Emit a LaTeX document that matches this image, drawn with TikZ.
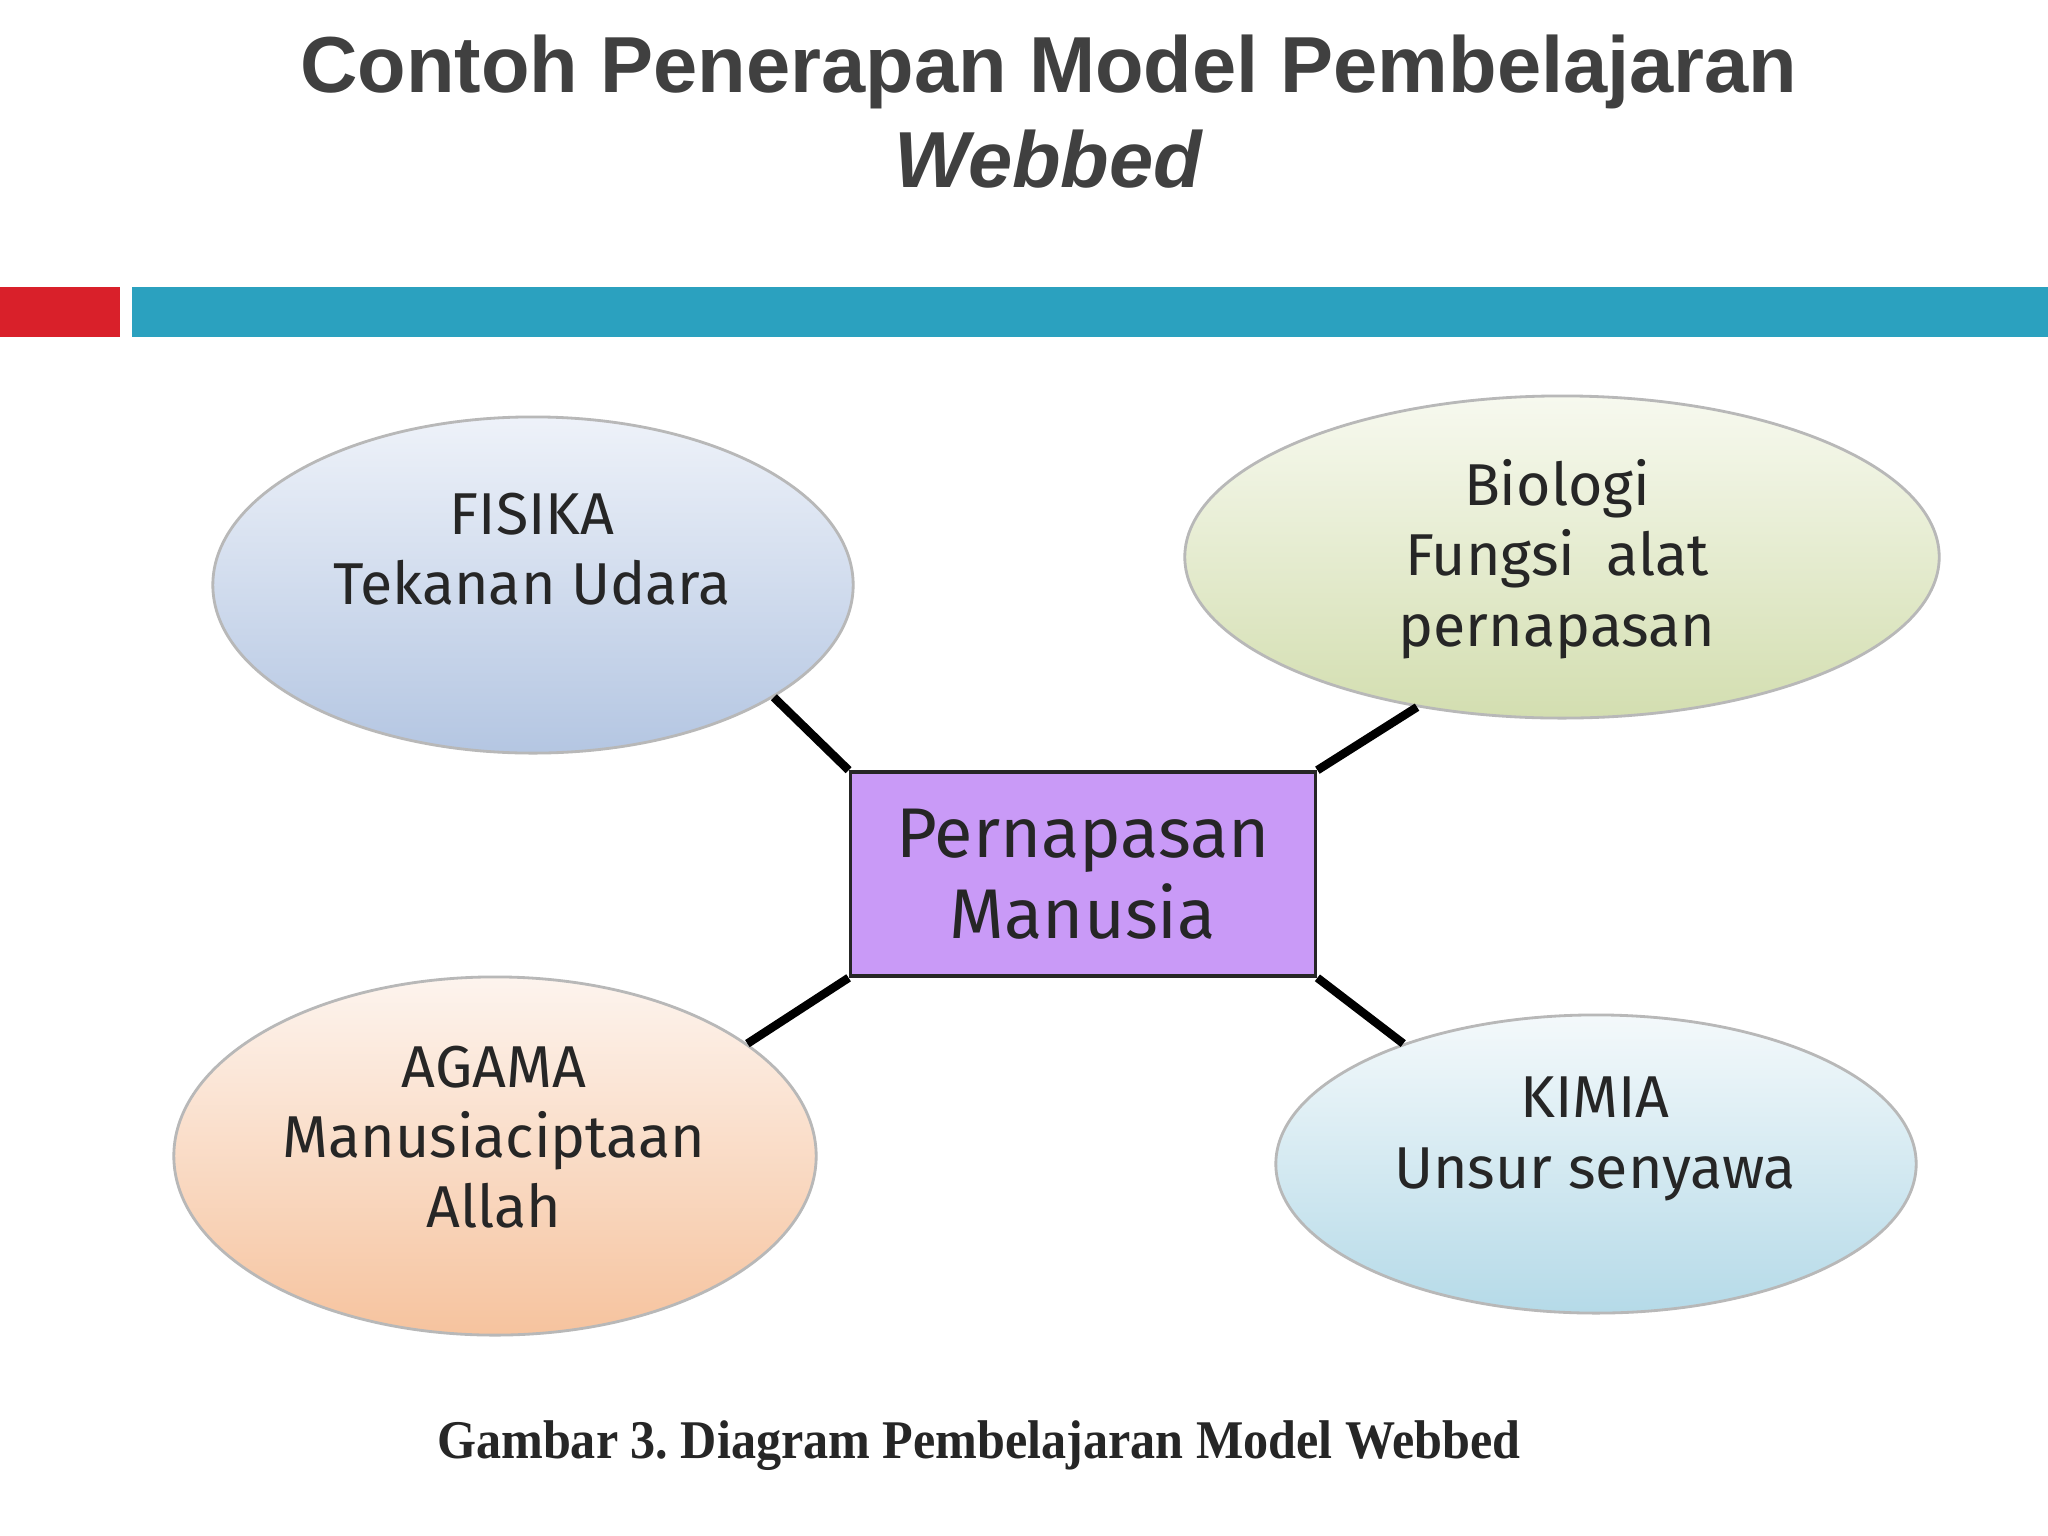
\documentclass[tikz,border=0pt]{standalone}
\usepackage{fontspec}
\setmainfont{Liberation Sans}
\newfontfamily\capfont[FakeStretch=0.92]{Liberation Serif}
\newfontfamily\handfont{Fira Sans}
\usetikzlibrary{shapes.geometric}
\definecolor{cTitle}{HTML}{404040}
\definecolor{cRed}{HTML}{D9202A}
\definecolor{cBlue}{HTML}{2BA1BF}
\definecolor{cFisTop}{HTML}{EEF2F9}
\definecolor{cFisBot}{HTML}{B4C6E2}
\definecolor{cBioTop}{HTML}{F7F9EF}
\definecolor{cBioBot}{HTML}{D3DEB0}
\definecolor{cAgaTop}{HTML}{FDF4EE}
\definecolor{cAgaBot}{HTML}{F6C39E}
\definecolor{cKimTop}{HTML}{F4F9FB}
\definecolor{cKimBot}{HTML}{B5DAE8}
\definecolor{cHub}{HTML}{C99AF7}
\tikzset{
  oval/.style={ellipse, draw=black!28, line width=0.8pt, inner sep=0pt},
  fisika/.style={oval, minimum width=6.4cm, minimum height=3.36cm,
                 top color=cFisTop, bottom color=cFisBot},
  biologi/.style={oval, minimum width=7.54cm, minimum height=3.22cm,
                  top color=cBioTop, bottom color=cBioBot},
  agama/.style={oval, minimum width=6.42cm, minimum height=3.58cm,
                top color=cAgaTop, bottom color=cAgaBot},
  kimia/.style={oval, minimum width=6.4cm, minimum height=2.98cm,
                top color=cKimTop, bottom color=cKimBot},
  hub/.style={rectangle, draw=black!85, line width=1pt, fill=cHub,
              minimum width=4.65cm, minimum height=2.04cm, align=center,
              font=\handfont\fontsize{20}{23}\selectfont, text=black!85},
  txt/.style={align=center, font=\handfont\fontsize{16.8}{20}\selectfont, text=black!85},
  title/.style={align=center, font=\bfseries\fontsize{22.6}{27}\selectfont, text=cTitle},
  capt/.style={font=\capfont\bfseries\fontsize{15.5}{18}\selectfont\frenchspacing, text=black!85},
  link/.style={line width=2.4pt, black},
}

\begin{document}
\begin{tikzpicture}[x=0.01cm, y=-0.01cm]
    \fill[white] (0,0) rectangle (2048,1536);
    \useasboundingbox (0,0) rectangle (2048,1536);

    % heading and bars
    \node[title] (head) at (1049,112) {Contoh Penerapan Model Pembelajaran\\ \textit{Webbed}};
    \fill[cRed]  (0,287)   rectangle (120,337);
    \fill[cBlue] (132,287) rectangle (2048,337);

    % centre topic
    \node[hub] (hub) at (1083,874) {Pernapasan\\ Manusia};

    % the four subjects
    \node[fisika]  (fis) at (533,585)   {};
    \node[biologi] (bio) at (1562,557)  {};
    \node[agama]   (aga) at (495,1156)  {};
    \node[kimia]   (kim) at (1596,1164) {};
    \node[txt] (fist) at (532,549)   {FISIKA\\ Tekanan Udara};
    \node[txt] (biot) at (1557,559)  {Biologi\\ Fungsi \ alat\\ pernapasan};
    \node[txt] (agat) at (494,1137)  {AGAMA\\ Manusiaciptaan\\ Allah};
    \node[txt] (kimt) at (1595,1139) {KIMIA\\ Unsur senyawa};

    \draw[link] (hub.north west) -- (fis.-25);
    \draw[link] (hub.north east) -- (bio.-134);
    \draw[link] (hub.south west) -- (aga.24);
    \draw[link] (hub.south east) -- (kim.148);

    % caption
    \node[capt] (cap) at (979,1446) {Gambar 3. Diagram Pembelajaran Model Webbed};
  \end{tikzpicture}
\end{document}
